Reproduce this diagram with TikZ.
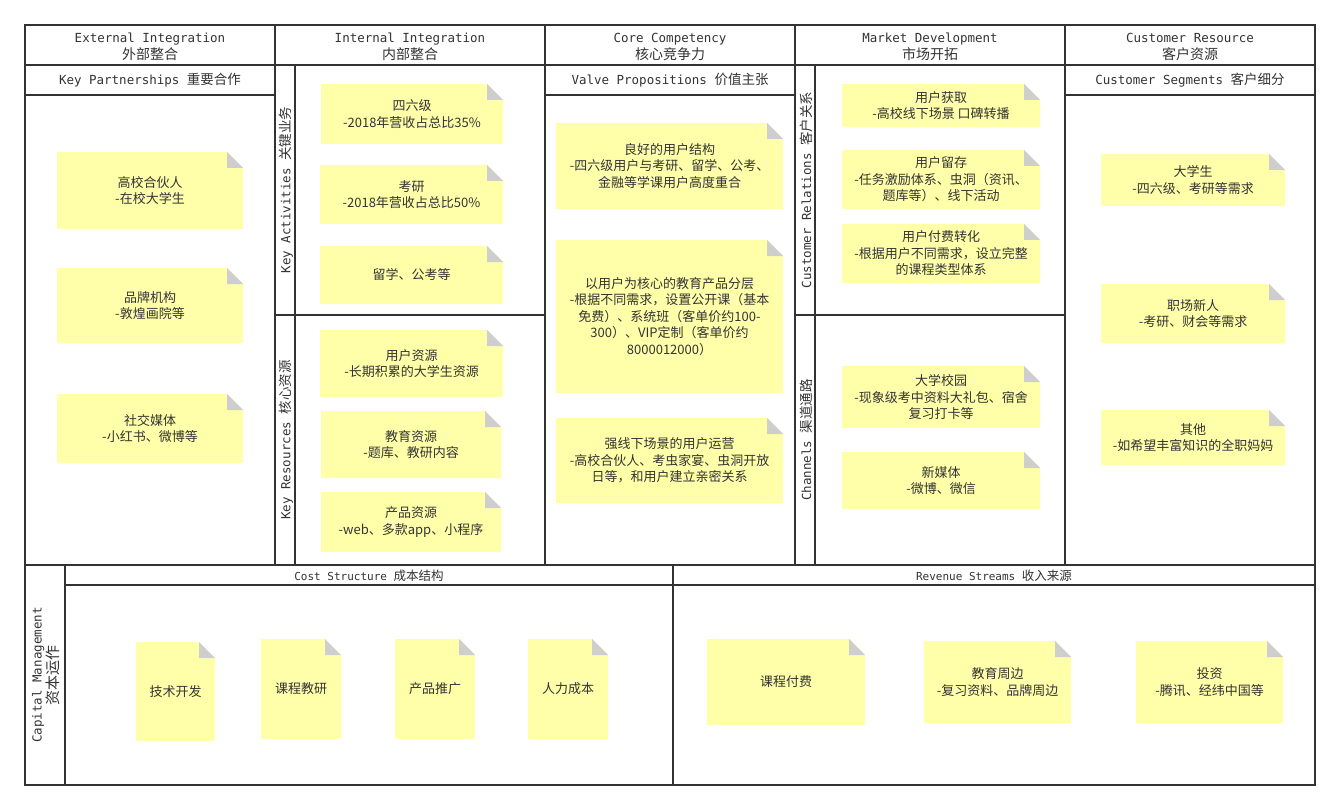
\documentclass[tikz,border=0pt]{standalone}
\usepackage{fontspec}
\setmainfont{Noto Sans CJK SC}
\newfontfamily\monof{DejaVu Sans Mono}
\definecolor{linec}{RGB}{51,51,51}
\definecolor{txtc}{RGB}{51,51,51}
\definecolor{notefill}{RGB}{255,255,170}
\definecolor{foldfill}{RGB}{206,206,206}
\newcommand\bigcjk[1]{{\fontsize{14}{17}\selectfont #1}}
\newcommand\midcjk[1]{{\fontsize{13.5}{17}\selectfont #1}}
\newcommand\stickynote[6]{%
  \fill[notefill] (#2,#3) -- (#4-16,#3) -- (#4,#3+16) -- (#4,#5) -- (#2,#5) -- cycle;
  \fill[foldfill] (#4-16,#3) -- (#4,#3+16) -- (#4-16,#3+16) -- cycle;
  \node[notetext] (#1) at ({(#2+#4)/2},{(#3+#5)/2}) {#6};
}
\begin{document}
\begin{tikzpicture}[x=1pt,y=-1pt,
  grid/.style={draw=linec, line width=1.6pt},
  hdr/.style={text=txtc, align=center, font=\fontsize{12.5}{17}\selectfont, inner sep=0pt},
  subhdr/.style={text=txtc, align=center, font=\fontsize{11}{14}\selectfont, inner sep=0pt},
  notetext/.style={text=txtc, align=center, font=\fontsize{13}{16.5}\selectfont, inner sep=0pt},
]
\useasboundingbox (0,0) rectangle (1340,810);
\fill[white] (0,0) rectangle (1340,810);

% ---------- sticky notes ----------
% column 1
\stickynote{kp1}{57}{152}{243}{229}{高校合伙人\\-在校大学生}
\stickynote{kp2}{57}{268}{243}{343}{品牌机构\\-敦煌画院等}
\stickynote{kp3}{57}{394}{243}{463}{社交媒体\\-小红书、微博等}
% column 2
\stickynote{ka1}{321}{84}{503}{144}{四六级\\-2018年营收占总比35\%}
\stickynote{ka2}{320}{165}{503}{224}{考研\\-2018年营收占总比50\%}
\stickynote{ka3}{320}{246}{503}{304}{留学、公考等}
\stickynote{kr1}{320}{330}{503}{397}{用户资源\\-长期积累的大学生资源}
\stickynote{kr2}{321}{411}{501}{478}{教育资源\\-题库、教研内容}
\stickynote{kr3}{321}{492}{501}{552}{产品资源\\-web、多款app、小程序}
% column 3
\stickynote{vp1}{556}{123}{783}{209}{良好的用户结构\\-四六级用户与考研、留学、公考、\\金融等学课用户高度重合}
\stickynote{vp2}{556}{240}{783}{393}{以用户为核心的教育产品分层\\-根据不同需求，设置公开课（基本\\免费）、系统班（客单价约100-\\300）、VIP定制（客单价约\\8000012000）}
\stickynote{vp3}{556}{418}{783}{503}{强线下场景的用户运营\\-高校合伙人、考虫家宴、虫洞开放\\日等，和用户建立亲密关系}
% column 4
\stickynote{cr1}{842}{84}{1040}{127}{用户获取\\-高校线下场景 口碑转播}
\stickynote{cr2}{842}{150}{1040}{209}{用户留存\\-任务激励体系、虫洞（资讯、\\题库等）、线下活动}
\stickynote{cr3}{842}{224}{1040}{283}{用户付费转化\\-根据用户不同需求，设立完整\\的课程类型体系}
\stickynote{ch1}{842}{366}{1040}{428}{大学校园\\-现象级考中资料大礼包、宿舍\\复习打卡等}
\stickynote{ch2}{842}{452}{1040}{509}{新媒体\\-微博、微信}
% column 5
\stickynote{cs1}{1101}{154}{1285}{206}{大学生\\-四六级、考研等需求}
\stickynote{cs2}{1101}{284}{1285}{343}{职场新人\\-考研、财会等需求}
\stickynote{cs3}{1101}{410}{1285}{465}{其他\\-如希望丰富知识的全职妈妈}
% bottom
\stickynote{co1}{136}{642}{215}{741}{技术开发}
\stickynote{co2}{261}{639}{341}{739}{课程教研}
\stickynote{co3}{395}{639}{475}{739}{产品推广}
\stickynote{co4}{528}{639}{608}{739}{人力成本}
\stickynote{rs1}{707}{639}{865}{725}{课程付费}
\stickynote{rs2}{924}{641}{1071}{723}{教育周边\\-复习资料、品牌周边}
\stickynote{rs3}{1136}{641}{1283}{723}{投资\\-腾讯、经纬中国等}

% ---------- grid ----------
\draw[grid] (25,25) rectangle (1315,785);
\draw[grid] (25,65) -- (1315,65);
\foreach \xx in {275,545,795,1065} \draw[grid] (\xx,25) -- (\xx,565);
\draw[grid] (25,95) -- (275,95);
\draw[grid] (545,95) -- (795,95);
\draw[grid] (1065,95) -- (1315,95);
\draw[grid] (295,65) -- (295,565);
\draw[grid] (815,65) -- (815,565);
\draw[grid] (275,315) -- (545,315);
\draw[grid] (795,315) -- (1065,315);
\draw[grid] (25,565) -- (1315,565);
\draw[grid] (65,565) -- (65,785);
\draw[grid] (65,585) -- (1315,585);
\draw[grid] (673,565) -- (673,785);

% ---------- headers ----------
\node[hdr] (h1) at (150,46.5) {{\monof External Integration}\\\bigcjk{外部整合}};
\node[hdr] (h2) at (410,46.5) {{\monof Internal Integration}\\\bigcjk{内部整合}};
\node[hdr] (h3) at (670,46.5) {{\monof Core Competency}\\\bigcjk{核心竞争力}};
\node[hdr] (h4) at (930,46.5) {{\monof Market Development}\\\bigcjk{市场开拓}};
\node[hdr] (h5) at (1190,46.5) {{\monof Customer Resource}\\\bigcjk{客户资源}};

\node[hdr] (s1) at (150,80.5) {{\monof Key Partnerships }\midcjk{重要合作}};
\node[hdr] (s3) at (670,80.5) {{\monof Valve Propositions }\midcjk{价值主张}};
\node[hdr] (s5) at (1190,80.5) {{\monof Customer Segments }\midcjk{客户细分}};

\node[hdr, rotate=90] (v1) at (286,190) {{\monof Key Activities }\midcjk{关键业务}};
\node[hdr, rotate=90] (v2) at (286,440) {{\monof Key Resources }\midcjk{核心资源}};
\node[hdr, rotate=90] (v3) at (806,190) {{\monof Customer Relations }\midcjk{客户关系}};
\node[hdr, rotate=90] (v4) at (806,440) {{\monof Channels }\midcjk{渠道通路}};

\node[hdr, rotate=90] (cm) at (46,675) {{\monof Capital Management}\\{\fontsize{15}{17}\selectfont 资本运作}};

\node[subhdr] (b1) at (369,576) {{\monof Cost Structure }{\fontsize{12.5}{14}\selectfont 成本结构}};
\node[subhdr] (b2) at (994,576) {{\monof Revenue Streams }{\fontsize{12.5}{14}\selectfont 收入来源}};
\end{tikzpicture}
\end{document}
